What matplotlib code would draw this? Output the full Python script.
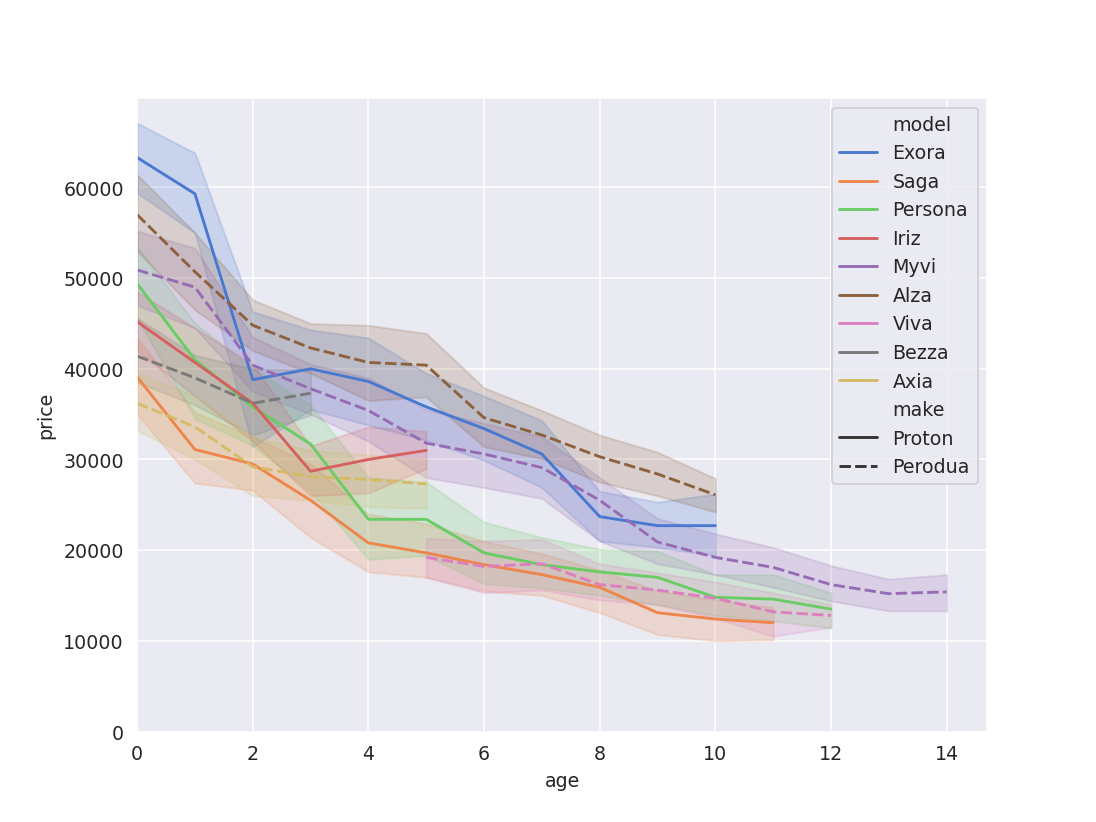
import matplotlib
matplotlib.use("Agg")
import matplotlib.pyplot as plt
from matplotlib.lines import Line2D
import seaborn as sns

# mean price and confidence band (thousands RM) per model
exora_age = [0, 1, 2, 3, 4, 5, 6, 7, 8, 9, 10]
exora_mean = [63.3, 59.3, 38.8, 40.0, 38.6, 35.8, 33.4, 30.6, 23.7, 22.7, 22.7]
exora_hi = [67.1, 63.8, 46.3, 44.3, 43.4, 39.5, 37.0, 34.3, 26.5, 25.3, 26.2]
exora_lo = [59.4, 55.0, 31.4, 35.5, 33.8, 32.1, 29.9, 26.9, 21.0, 20.3, 19.4]

saga_age = [0, 1, 2, 3, 4, 5, 6, 7, 8, 9, 10, 11]
saga_mean = [39.1, 31.1, 29.5, 25.5, 20.8, 19.7, 18.4, 17.3, 15.9, 13.1, 12.4, 12.0]
saga_hi = [43.4, 35.2, 32.5, 29.5, 24.0, 22.9, 21.0, 19.6, 17.8, 15.5, 14.5, 13.7]
saga_lo = [35.0, 27.4, 26.6, 21.4, 17.6, 17.0, 15.5, 15.0, 13.1, 10.7, 10.0, 10.1]

persona_age = [0, 1, 2, 3, 4, 5, 6, 7, 8, 9, 10, 11, 12]
persona_mean = [49.4, 41.0, 35.8, 31.7, 23.4, 23.4, 19.7, 18.4, 17.6, 17.0, 14.8, 14.6, 13.5]
persona_hi = [53.5, 45.0, 40.0, 36.0, 28.0, 27.5, 23.1, 21.4, 20.1, 19.9, 17.3, 17.3, 15.3]
persona_lo = [45.6, 34.5, 31.5, 26.5, 19.0, 19.4, 16.3, 15.8, 15.0, 14.0, 12.8, 12.2, 11.4]

iriz_age = [0, 1, 2, 3, 4, 5]
iriz_mean = [45.2, 40.7, 36.2, 28.7, 30.0, 31.0]
iriz_hi = [48.5, 44.5, 40.5, 31.5, 33.6, 33.1]
iriz_lo = [42.0, 37.0, 32.0, 26.0, 26.3, 29.0]

myvi_age = [0, 1, 2, 3, 4, 5, 6, 7, 8, 9, 10, 11, 12, 13, 14]
myvi_mean = [50.9, 49.0, 40.4, 37.8, 35.4, 31.8, 30.6, 29.1, 25.5, 20.9, 19.2, 18.1, 16.2, 15.2, 15.4]
myvi_hi = [55.2, 53.3, 43.5, 40.5, 39.0, 35.5, 34.0, 32.5, 28.0, 23.5, 21.8, 20.3, 18.3, 16.8, 17.3]
myvi_lo = [47.0, 44.5, 37.5, 35.0, 32.0, 28.0, 26.9, 25.7, 21.0, 18.5, 17.3, 15.9, 14.4, 13.3, 13.3]

alza_age = [0, 1, 2, 3, 4, 5, 6, 7, 8, 9, 10]
alza_mean = [57.0, 50.7, 44.8, 42.3, 40.7, 40.4, 34.6, 32.7, 30.3, 28.4, 26.1]
alza_hi = [61.4, 55.0, 47.6, 45.0, 44.8, 43.9, 37.9, 35.4, 32.7, 30.8, 27.9]
alza_lo = [53.0, 46.5, 42.0, 39.5, 36.5, 36.9, 31.4, 30.1, 27.5, 26.0, 24.2]

viva_age = [5, 6, 7, 8, 9, 10, 11, 12]
viva_mean = [19.2, 18.2, 18.5, 16.2, 15.6, 14.7, 13.2, 12.8]
viva_hi = [21.3, 21.0, 21.2, 18.5, 17.5, 16.5, 15.3, 14.0]
viva_lo = [17.0, 15.3, 15.6, 14.5, 14.0, 12.5, 10.5, 11.5]

bezza_age = [0, 1, 2, 3]
bezza_mean = [41.4, 39.0, 36.2, 37.3]
bezza_hi = [45.6, 41.5, 40.0, 39.9]
bezza_lo = [38.5, 36.0, 32.7, 34.9]

axia_age = [0, 1, 2, 3, 4, 5]
axia_mean = [36.2, 33.6, 29.2, 28.1, 27.8, 27.3]
axia_hi = [39.5, 37.0, 32.5, 31.0, 30.5, 30.0]
axia_lo = [33.2, 30.0, 26.0, 25.5, 24.8, 24.6]

models = ["Exora", "Saga", "Persona", "Iriz", "Myvi", "Alza", "Viva", "Bezza", "Axia"]
makes = ["Proton", "Proton", "Proton", "Proton", "Perodua", "Perodua", "Perodua", "Perodua", "Perodua"]
series = [
    (exora_age, exora_mean, exora_lo, exora_hi),
    (saga_age, saga_mean, saga_lo, saga_hi),
    (persona_age, persona_mean, persona_lo, persona_hi),
    (iriz_age, iriz_mean, iriz_lo, iriz_hi),
    (myvi_age, myvi_mean, myvi_lo, myvi_hi),
    (alza_age, alza_mean, alza_lo, alza_hi),
    (viva_age, viva_mean, viva_lo, viva_hi),
    (bezza_age, bezza_mean, bezza_lo, bezza_hi),
    (axia_age, axia_mean, axia_lo, axia_hi),
]

sns.set_style("darkgrid")
colors = sns.color_palette("muted", len(models))
dash = {"Proton": "", "Perodua": (4, 1.5)}

fig, ax = plt.subplots(figsize=(8, 6), dpi=137.1)

for (age, mean, lo, hi), model, make, c in zip(series, models, makes, colors):
    k = 1000
    ax.fill_between(age, [v * k for v in lo], [v * k for v in hi], color=c, alpha=0.2)
    line, = ax.plot(age, [v * k for v in mean], color=c, label=model)
    if dash[make]:
        line.set_dashes(dash[make])

ax.set_xlim(0, 14.7)
ax.set_ylim(0, 69850)
ax.set_xlabel("age")
ax.set_ylabel("price")

# legend in seaborn style: hue block then style block
blank = Line2D([], [], linestyle="", marker="")
handles = [blank] + [Line2D([], [], color=c, lw=1.5) for c in colors]
labels = ["model"] + models
handles += [blank, Line2D([], [], color=".2", lw=1.5),
            Line2D([], [], color=".2", lw=1.5, dashes=dash["Perodua"])]
labels += ["make", "Proton", "Perodua"]
ax.legend(handles, labels, loc="upper right")

fig.savefig("out.png")
